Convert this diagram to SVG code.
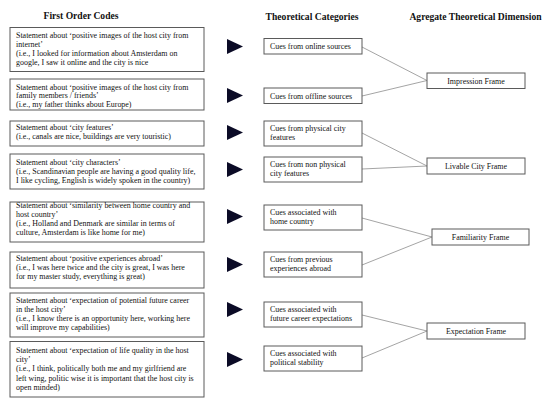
<svg xmlns="http://www.w3.org/2000/svg" width="550" height="407" viewBox="0 0 550 407">
<style>
.bg{fill:#ffffff}
.box{fill:#ffffff;stroke:#5a5a5a;stroke-width:1}
.t{font-family:"Liberation Serif","Times New Roman",serif;font-size:7.95px;fill:#111}
.h{font-family:"Liberation Serif","Times New Roman",serif;font-size:9.6px;font-weight:bold;fill:#111}
.c{text-anchor:middle}
.tri{fill:#0b0b26}
.ln{stroke:#9a9a9a;stroke-width:0.9;fill:none}
</style>
<defs>
<polygon id="arr" class="tri" points="0,0 16,7.5 0,15"/>
</defs>
<rect class="bg" width="550" height="407"/>
<g id="headers">
<text class="h c" x="81" y="19">First Order Codes</text>
<text class="h c" x="312" y="20">Theoretical Categories</text>
<text class="h c" x="475.5" y="20">Agregate Theoretical Dimension</text>
</g>
<g id="codes">
<g id="code1"><rect class="box" x="10" y="27.5" width="194" height="44"/>
<text class="t" x="16" y="37.5">Statement about ‘positive images of the host city from</text>
<text class="t" x="16" y="46.5">internet’</text>
<text class="t" x="16" y="55.5">(i.e., I looked for information about Amsterdam on</text>
<text class="t" x="16" y="64.5">google, I saw it online and the city is nice</text></g>
<g id="code2"><rect class="box" x="10" y="79" width="194" height="31"/>
<text class="t" x="16" y="89.5">Statement about ‘positive images of the host city from</text>
<text class="t" x="16" y="98">family members / friends’</text>
<text class="t" x="16" y="106.5">(i.e., my father thinks about Europe)</text></g>
<g id="code3"><rect class="box" x="10" y="121" width="194" height="25"/>
<text class="t" x="16" y="130">Statement about ‘city features’</text>
<text class="t" x="16" y="139">(i.e., canals are nice, buildings are very touristic)</text></g>
<g id="code4"><rect class="box" x="10" y="154" width="194" height="35"/>
<text class="t" x="16" y="164.5">Statement about ‘city characters’</text>
<text class="t" x="16" y="173.5">(i.e., Scandinavian people are having a good quality life,</text>
<text class="t" x="16" y="182.5"> I like cycling, English is widely spoken in the country)</text></g>
<g id="code5"><rect class="box" x="10" y="202" width="194" height="40"/>
<text class="t" x="16" y="208">Statement about ‘similarity between home country and</text>
<text class="t" x="16" y="217">host country’</text>
<text class="t" x="16" y="226">(i.e., Holland and Denmark are similar in terms of</text>
<text class="t" x="16" y="235">culture, Amsterdam is like home for me)</text></g>
<g id="code6"><rect class="box" x="10" y="252" width="194" height="36"/>
<text class="t" x="16" y="261">Statement about ‘positive experiences abroad’</text>
<text class="t" x="16" y="270">(i.e., I was here twice and the city is great, I was here</text>
<text class="t" x="16" y="279">for my master study, everything is great)</text></g>
<g id="code7"><rect class="box" x="10" y="293" width="194" height="44"/>
<text class="t" x="16" y="302.5">Statement about ‘expectation of potential future career</text>
<text class="t" x="16" y="311.5">in the host city’</text>
<text class="t" x="16" y="321">(i.e., I know there is an opportunity here, working here</text>
<text class="t" x="16" y="330">will improve my capabilities)</text></g>
<g id="code8"><rect class="box" x="10" y="341.5" width="194" height="55.5"/>
<text class="t" x="16" y="352.5">Statement about ‘expectation of life quality in the host</text>
<text class="t" x="16" y="361.5">city’</text>
<text class="t" x="16" y="371">(i.e., I think, politically both me and my girlfriend are</text>
<text class="t" x="16" y="380.5">left wing, politic wise it is important that the host city is</text>
<text class="t" x="16" y="390">open minded)</text></g>
</g>
<g id="arrows">
<use href="#arr" x="227" y="39"/>
<use href="#arr" x="227" y="88"/>
<use href="#arr" x="227" y="125"/>
<use href="#arr" x="227" y="162"/>
<use href="#arr" x="227" y="209"/>
<use href="#arr" x="227" y="257"/>
<use href="#arr" x="227" y="302"/>
<use href="#arr" x="227" y="352"/>
</g>
<g id="connectors">
<line class="ln" x1="362" y1="47" x2="427" y2="80.5"/>
<line class="ln" x1="362" y1="96" x2="427" y2="80.5"/>
<line class="ln" x1="362" y1="133" x2="427" y2="166"/>
<line class="ln" x1="362" y1="169" x2="427" y2="166"/>
<line class="ln" x1="362" y1="218" x2="432" y2="237"/>
<line class="ln" x1="362" y1="265" x2="432" y2="237"/>
<line class="ln" x1="362" y1="315" x2="427" y2="331"/>
<line class="ln" x1="362" y1="358" x2="427" y2="331"/>
</g>
<g id="categories">
<g id="cat1"><rect class="box" x="264" y="38.5" width="98" height="15.5"/>
<text class="t" x="270" y="49">Cues from online sources</text></g>
<g id="cat2"><rect class="box" x="264" y="88" width="98" height="15.5"/>
<text class="t" x="270" y="98.5">Cues from offline sources</text></g>
<g id="cat3"><rect class="box" x="264" y="121" width="98" height="25"/>
<text class="t" x="270" y="130.5">Cues from physical city</text>
<text class="t" x="270" y="140">features</text></g>
<g id="cat4"><rect class="box" x="264" y="157" width="98" height="25"/>
<text class="t" x="270" y="166.5">Cues from non physical</text>
<text class="t" x="270" y="176">city features</text></g>
<g id="cat5"><rect class="box" x="264" y="205" width="98" height="25"/>
<text class="t" x="270" y="214.5">Cues associated with</text>
<text class="t" x="270" y="224">home country</text></g>
<g id="cat6"><rect class="box" x="264" y="252" width="98" height="25"/>
<text class="t" x="270" y="261.5">Cues from previous</text>
<text class="t" x="270" y="271">experiences abroad</text></g>
<g id="cat7"><rect class="box" x="264" y="302" width="98" height="25"/>
<text class="t" x="270" y="311.5">Cues associated with</text>
<text class="t" x="270" y="321">future career expectations</text></g>
<g id="cat8"><rect class="box" x="264" y="346" width="98" height="25"/>
<text class="t" x="270" y="355.5">Cues associated with</text>
<text class="t" x="270" y="365">political stability</text></g>
</g>
<g id="dimensions">
<g id="dim1"><rect class="box" x="427" y="73" width="98" height="15.5"/>
<text class="t c" x="476" y="83.5">Impression Frame</text></g>
<g id="dim2"><rect class="box" x="427" y="158" width="98" height="16"/>
<text class="t c" x="476" y="168.5">Livable City Frame</text></g>
<g id="dim3"><rect class="box" x="432" y="229" width="97" height="16"/>
<text class="t c" x="480.5" y="239.5">Familiarity Frame</text></g>
<g id="dim4"><rect class="box" x="427" y="323" width="98" height="16"/>
<text class="t c" x="476" y="333.5">Expectation Frame</text></g>
</g>
</svg>
